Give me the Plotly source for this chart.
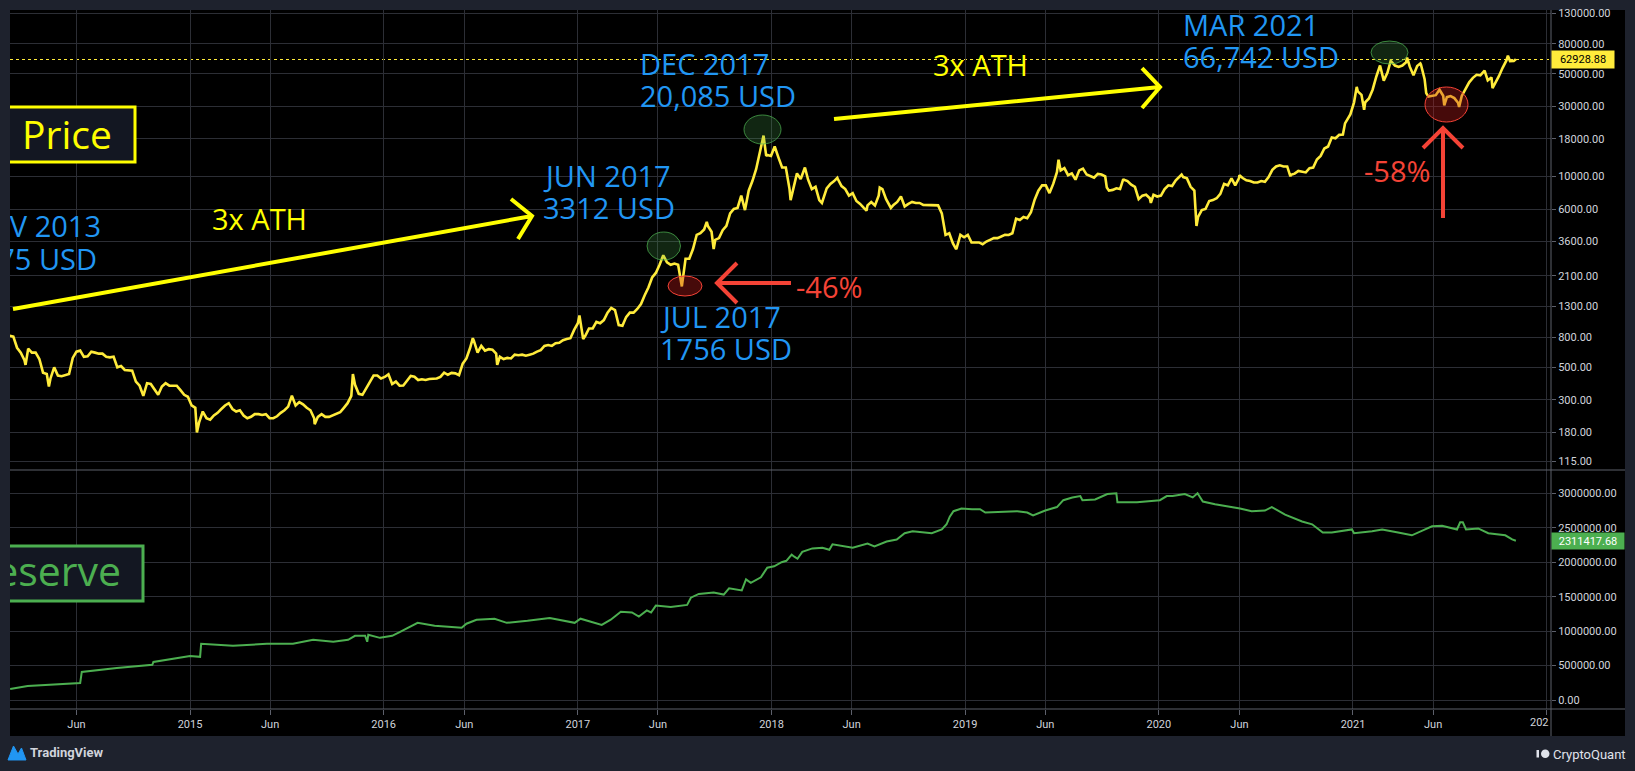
import math
import pandas as pd
import plotly.graph_objects as go

# ---------------------------------------------------------------- data
# weekly BTC price readings (USD), each list starts on the first Sunday of its year
price_2014 = [820, 810, 680, 630, 560, 670, 630, 630, 570, 460, 450, 420, 500, 440,
              435, 440, 450, 580, 640, 650, 590, 595, 640, 630, 620, 620, 590, 585,
              590, 500, 510, 480, 480, 475, 400, 375, 320, 390, 385, 355, 325, 370,
              390, 375, 375, 375, 350, 325, 315]
price_2015 = [275, 265, 210, 250, 225, 220, 235, 245, 260, 275, 285, 260, 250, 255,
              235, 225, 230, 240, 240, 237, 240, 225, 225, 232, 245, 255, 270, 290,
              275, 290, 280, 265, 255, 225, 230, 240, 230, 230, 235, 240, 247, 265,
              285, 320, 380, 330, 325, 360, 390, 440, 440, 420]
price_2016 = [430, 448, 385, 400, 375, 376, 405, 437, 432, 410, 415, 410, 416, 420,
              420, 430, 460, 445, 458, 455, 442, 530, 575, 680, 760, 630, 700, 650,
              665, 660, 620, 590, 570, 580, 575, 610, 605, 610, 600, 610, 620, 640,
              655, 700, 710, 700, 730, 735, 765, 780, 790, 900]
price_2017 = [1000, 900, 820, 920, 920, 1020, 1000, 1050, 1180, 1270, 1230, 970, 960,
              1100, 1180, 1180, 1250, 1350, 1550, 1750, 2050, 2200, 2500, 2900, 2600,
              2500, 2550, 2500, 1950, 2750, 2750, 3200, 4000, 4100, 4350, 4600, 4200,
              3700, 3800, 4300, 4600, 5600, 6000, 6100, 7400, 5900, 8000, 9300, 11200,
              15000, 19000, 14000, 13800]
price_2018 = [16000, 13500, 11500, 11500, 8200, 8300, 10500, 9600, 11400, 9500, 8200,
              8500, 6900, 7000, 8300, 8900, 9300, 9600, 8600, 8200, 7400, 7700, 6800,
              6500, 6100, 6350, 6700, 6350, 7400, 8200, 7000, 6300, 6400, 6700, 7300,
              6250, 6500, 6700, 6600, 6600, 6400, 6400, 6350, 6400, 6350, 5600, 4000,
              4100, 3500, 3250, 4000, 3850]
price_2019 = [4000, 3550, 3550, 3550, 3450, 3600, 3700, 3800, 3800, 3900, 4000, 3990,
              4100, 5150, 5050, 5300, 5200, 5700, 6950, 8000, 8700, 8700, 7700, 8900,
              10700, 11000, 11400, 10200, 10500, 9500, 11000, 11300, 10300, 10100, 9800,
              10400, 10300, 10000, 8000, 8100, 8300, 8200, 9500, 9300, 8800, 8500, 7000,
              7400, 7500, 7100, 7500, 7300]
price_2020 = [7400, 8200, 8700, 8600, 9400, 10000, 9900, 9700, 8500, 8000, 5300, 5900,
              6000, 6800, 6900, 7100, 7600, 8900, 8700, 9700, 8700, 9700, 9750, 9400,
              9300, 9100, 9100, 9300, 9200, 9900, 11100, 11700, 11900, 11700, 11700,
              10250, 10450, 10900, 10750, 10650, 11400, 11500, 13050, 13800, 15500,
              16000, 18400, 18200, 19200, 19300, 24000, 26500]
price_2021 = [32000, 38000, 36000, 32000, 34000, 39000, 48000, 57000, 45000, 51000,
              61000, 57000, 55800, 57000, 60000, 56000, 49000, 56600, 58000, 46000,
              35000, 35500, 35800, 39000, 35500, 34700, 35300, 34200, 31800, 35400,
              39900, 43800, 47000, 49300, 48900, 51800, 45200, 47300, 43200, 48200,
              55000, 61500, 61000, 61300]
price_year_starts = ['2014-01-26', '2015-01-04', '2016-01-03', '2017-01-01',
                     '2018-01-07', '2019-01-06', '2020-01-05', '2021-01-03']

# intra-week highs / lows
spike_dates = ['2014-02-25', '2014-04-10', '2015-01-14', '2015-07-12', '2015-08-24',
               '2015-11-04', '2016-06-17', '2016-08-02', '2017-01-04', '2017-01-11',
               '2017-06-11', '2017-07-16', '2017-09-01', '2017-09-14', '2017-12-17',
               '2017-12-22', '2018-02-06', '2018-03-05', '2018-04-06', '2018-05-05',
               '2018-06-29', '2018-07-24', '2018-08-14', '2018-12-15', '2019-06-26',
               '2019-09-25', '2019-10-26', '2019-12-17', '2020-02-13', '2020-03-12',
               '2020-06-01', '2020-09-05', '2020-12-17', '2021-01-08', '2021-01-22',
               '2021-02-21', '2021-03-13', '2021-04-13', '2021-05-08', '2021-05-19',
               '2021-06-22', '2021-07-20', '2021-09-06', '2021-09-21', '2021-10-20']
spike_values = [520, 370, 180, 320, 205, 450, 790, 520, 1130, 780, 3300, 1780, 4900,
                3200, 19800, 13800, 6900, 11500, 6600, 9800, 5850, 8400, 6100, 3200,
                13000, 8400, 9600, 6600, 10300, 4600, 10200, 10000, 23000, 40800, 28500,
                57500, 61200, 64500, 58900, 37000, 30500, 29800, 52700, 40000, 66500]
last_date = '2021-11-04'
last_price = 62928.88

reserve_dates = ['2014-01-27', '2014-02-24', '2014-03-01', '2014-06-08', '2014-06-11',
                 '2014-08-16', '2014-10-22', '2014-10-24', '2015-01-01', '2015-01-20',
                 '2015-01-22', '2015-03-23', '2015-05-26', '2015-07-14', '2015-08-21',
                 '2015-09-28', '2015-10-26', '2015-11-08', '2015-11-27', '2015-12-01',
                 '2015-12-03', '2015-12-25', '2016-01-17', '2016-02-01', '2016-02-15',
                 '2016-03-05', '2016-04-06', '2016-05-27', '2016-06-05', '2016-06-24',
                 '2016-07-28', '2016-08-20', '2016-09-28', '2016-11-09', '2016-12-26',
                 '2017-01-06', '2017-02-15', '2017-03-04', '2017-03-23', '2017-04-13',
                 '2017-04-26', '2017-05-11', '2017-05-19', '2017-05-28', '2017-06-25',
                 '2017-07-26', '2017-08-02', '2017-08-17', '2017-09-14', '2017-10-03',
                 '2017-10-13', '2017-11-06', '2017-11-14', '2017-11-23', '2017-12-12',
                 '2017-12-24', '2018-01-06', '2018-01-20', '2018-01-29', '2018-02-08',
                 '2018-02-13', '2018-02-19', '2018-02-28', '2018-03-19', '2018-04-07',
                 '2018-04-20', '2018-04-26', '2018-06-03', '2018-07-01', '2018-07-14',
                 '2018-08-06', '2018-08-25', '2018-09-09', '2018-09-24', '2018-10-30',
                 '2018-11-18', '2018-11-27', '2018-12-03', '2018-12-10', '2018-12-25',
                 '2019-01-14', '2019-01-29', '2019-02-08', '2019-04-09', '2019-04-28',
                 '2019-05-09', '2019-06-01', '2019-06-23', '2019-07-05', '2019-07-22',
                 '2019-08-06', '2019-08-10', '2019-09-03', '2019-09-26', '2019-10-13',
                 '2019-10-15', '2019-11-21', '2020-01-03', '2020-01-16', '2020-01-27',
                 '2020-02-19', '2020-02-28', '2020-03-05', '2020-03-14', '2020-03-24',
                 '2020-04-16', '2020-05-10', '2020-06-02', '2020-06-24', '2020-07-19',
                 '2020-08-01', '2020-08-26', '2020-09-27', '2020-10-16', '2020-11-05',
                 '2020-11-22', '2020-12-30', '2021-01-03', '2021-02-06', '2021-02-25',
                 '2021-03-27', '2021-04-22', '2021-05-17', '2021-05-30', '2021-06-18',
                 '2021-07-16', '2021-07-22', '2021-07-27', '2021-08-02', '2021-08-25',
                 '2021-09-13', '2021-10-15', '2021-10-28', '2021-11-04']
reserve_values = [160000, 190000, 204000, 247000, 408000, 466000, 510000, 553000, 640000,
                  626000, 815000, 786000, 815000, 815000, 873000, 845000, 873000, 932000,
                  932000, 845000, 946000, 902000, 932000, 990000, 1048000, 1120000,
                  1077000, 1048000, 1107000, 1165000, 1180000, 1120000, 1150000, 1190000,
                  1120000, 1180000, 1090000, 1165000, 1280000, 1270000, 1210000, 1300000,
                  1270000, 1370000, 1350000, 1380000, 1485000, 1540000, 1560000, 1530000,
                  1620000, 1590000, 1750000, 1700000, 1780000, 1920000, 1940000, 2000000,
                  2020000, 2110000, 2080000, 2050000, 2150000, 2200000, 2210000, 2180000,
                  2260000, 2210000, 2270000, 2230000, 2300000, 2330000, 2420000, 2450000,
                  2420000, 2475000, 2550000, 2660000, 2740000, 2780000, 2770000, 2770000,
                  2720000, 2740000, 2720000, 2680000, 2750000, 2800000, 2900000, 2940000,
                  2960000, 2900000, 2910000, 2990000, 3000000, 2870000, 2870000, 2900000,
                  2960000, 2960000, 2990000, 2960000, 2940000, 3000000, 2880000, 2840000,
                  2810000, 2780000, 2740000, 2750000, 2800000, 2690000, 2590000, 2550000,
                  2430000, 2430000, 2475000, 2420000, 2450000, 2475000, 2430000, 2390000,
                  2475000, 2520000, 2530000, 2475000, 2580000, 2580000, 2475000, 2490000,
                  2420000, 2390000, 2330000, 2311417.68]

price_ticks = [130000, 80000, 50000, 30000, 18000, 10000, 6000, 3600, 2100, 1300, 800,
               500, 300, 180, 115]
reserve_ticks = [0, 500000, 1000000, 1500000, 2000000, 2500000, 3000000]
x_tick_dates = ['2014-06-01', '2015-01-01', '2015-06-01', '2016-01-01', '2016-06-01',
                '2017-01-01', '2017-06-01', '2018-01-01', '2018-06-01', '2019-01-01',
                '2019-06-01', '2020-01-01', '2020-06-01', '2021-01-01', '2021-06-01',
                '2022-01-01']
x_tick_labels = ['Jun', '2015', 'Jun', '2016', 'Jun', '2017', 'Jun', '2018', 'Jun',
                 '2019', 'Jun', '2020', 'Jun', '2021', 'Jun', '']

# ---------------------------------------------------------------- geometry
W, H = 1635, 771
ML, MR, MT, MB = 10, 84, 10, 62
PW, PH = W - ML - MR, H - MT - MB
X_START = pd.Timestamp('2014-01-26 17:00')
X_END = pd.Timestamp('2022-01-09 05:00')
LOG_LO, LOG_HI = 1.9994, 5.1344
RES_LO, RES_HI = -130600, 3338000
SPLIT_PX = 470
SPLIT = (MT + PH - SPLIT_PX) / PH


def px(x):
    return (x - ML) / PW


def py(y):
    return (MT + PH - y) / PH


def date_at(x):
    return (X_START + (X_END - X_START) * ((x - ML) / PW)).strftime('%Y-%m-%d %H:%M:%S')


def logprice_at(y):
    return LOG_HI - (y - MT) / (SPLIT_PX - MT) * (LOG_HI - LOG_LO)


def price_at(y):
    return 10 ** logprice_at(y)


def reserve_at(y):
    return RES_HI - (y - SPLIT_PX) / (MT + PH - SPLIT_PX) * (RES_HI - RES_LO)


# ---------------------------------------------------------------- series
parts = []
for start, vals in zip(price_year_starts, [price_2014, price_2015, price_2016, price_2017,
                                           price_2018, price_2019, price_2020, price_2021]):
    parts.append(pd.Series(vals, index=pd.date_range(start, periods=len(vals), freq='7D')))
parts.append(pd.Series(spike_values, index=pd.to_datetime(spike_dates)))
parts.append(pd.Series([last_price], index=[pd.Timestamp(last_date)]))
price = pd.concat(parts).sort_index()
price = price[~price.index.duplicated(keep='last')]

BLUE = '#2196f3'
YEL = '#ffff00'
RED = '#f44336'
GRN = '#4caf50'
GRID = '#2c2e35'
AXC = '#5d606b'
TXT = '#d1d4dc'
FRAME = '#1e222d'

fig = go.Figure()
fig.add_trace(go.Scatter(x=price.index, y=price.values, mode='lines', xaxis='x', yaxis='y',
                         line=dict(color='#ffeb3b', width=2.6), hoverinfo='skip'))
fig.add_trace(go.Scatter(x=pd.to_datetime(reserve_dates), y=reserve_values, mode='lines',
                         xaxis='x2', yaxis='y2', line=dict(color=GRN, width=2),
                         hoverinfo='skip'))

# clipped drawing texts (cut by the left edge of the pane)
fig.add_trace(go.Scatter(x=[date_at(101), date_at(97)],
                         y=[price_at(230), price_at(263)],
                         mode='text', text=['NOV 2013', '1175 USD'], textposition='middle left',
                         textfont=dict(family='Open Sans', size=29, color=BLUE),
                         xaxis='x', yaxis='y', hoverinfo='skip', cliponaxis=True))
fig.add_trace(go.Scatter(x=[date_at(121)], y=[reserve_at(576)], mode='text',
                         text=['Reserve'], textposition='middle left',
                         textfont=dict(family='Open Sans', size=41, color=GRN),
                         xaxis='x2', yaxis='y2', hoverinfo='skip', cliponaxis=True))

axis_common = dict(automargin=False, zeroline=False, showline=False, gridcolor=GRID,
                   gridwidth=1, fixedrange=True)
fig.update_layout(
    template='none',
    width=W, height=H,
    margin=dict(l=ML, r=MR, t=MT, b=MB, pad=0),
    paper_bgcolor=FRAME, plot_bgcolor='#000000',
    showlegend=False, hovermode=False, dragmode=False,
    xaxis=dict(axis_common, domain=[0, 1], anchor='y', range=[X_START, X_END],
               tickvals=x_tick_dates, showticklabels=False, ticks='', showgrid=True),
    xaxis2=dict(axis_common, domain=[0, 1], anchor='y2', range=[X_START, X_END],
                matches='x', tickvals=x_tick_dates, ticktext=x_tick_labels,
                ticks='outside', ticklen=5, tickcolor=AXC, showgrid=True,
                tickfont=dict(family='Roboto', size=11, color=TXT)),
    yaxis=dict(axis_common, domain=[SPLIT, 1], anchor='x', type='log',
               range=[LOG_LO, LOG_HI], side='right', tickvals=price_ticks,
               ticktext=['%.2f' % v for v in price_ticks], ticks='outside', ticklen=4,
               tickcolor=AXC, tickfont=dict(family='Roboto', size=11, color=TXT)),
    yaxis2=dict(axis_common, domain=[0, SPLIT], anchor='x2', range=[RES_LO, RES_HI],
                side='right', tickvals=reserve_ticks,
                ticktext=['%.2f' % v for v in reserve_ticks], ticks='outside', ticklen=4,
                tickcolor=AXC, tickfont=dict(family='Roboto', size=11, color=TXT)),
)


def seg_path(points):
    out = []
    for i, (x, y) in enumerate(points):
        out.append(('M' if i == 0 else 'L') + '%.5f,%.5f' % (px(x), py(y)))
    return ' '.join(out)


shapes = []
# black chart background including axis areas
shapes.append(dict(type='rect', xref='paper', yref='paper', x0=px(10), x1=px(1625),
                   y0=py(736), y1=py(10), fillcolor='#000000', line=dict(width=0),
                   layer='below'))
# pane separators / axis lines
shapes.append(dict(type='line', xref='paper', yref='paper', x0=px(10), x1=px(1625),
                   y0=py(470), y1=py(470), line=dict(color=AXC, width=1)))
shapes.append(dict(type='line', xref='paper', yref='paper', x0=px(10), x1=px(1625),
                   y0=py(709), y1=py(709), line=dict(color=AXC, width=1)))
shapes.append(dict(type='line', xref='paper', yref='paper', x0=px(1551), x1=px(1551),
                   y0=py(10), y1=py(736), line=dict(color=AXC, width=1)))
# last-price dotted line
shapes.append(dict(type='line', xref='paper', yref='paper', x0=0, x1=1,
                   y0=py(59.5), y1=py(59.5),
                   line=dict(color='#ffeb3b', width=1, dash='dot'), layer='below'))
# label boxes (clipped by the pane)
shapes.append(dict(type='rect', xref='x', yref='y', x0=date_at(-40), x1=date_at(135),
                   y0=price_at(162), y1=price_at(107), fillcolor='#131722',
                   line=dict(color=YEL, width=3), layer='between'))
shapes.append(dict(type='rect', xref='x2', yref='y2', x0=date_at(-40), x1=date_at(143),
                   y0=reserve_at(601), y1=reserve_at(546), fillcolor='#131722',
                   line=dict(color=GRN, width=3), layer='between'))
# ellipses
for (x0, y0, x1, y1, col) in [(647, 232, 680.5, 260, 'g'), (744, 115, 781, 144, 'g'),
                              (1371, 41, 1408, 64, 'g'), (668, 276, 702, 296, 'r'),
                              (1425, 87, 1468, 122, 'r')]:
    if col == 'g':
        fc, lc = 'rgba(76,175,80,0.22)', 'rgba(76,175,80,0.75)'
    else:
        fc, lc = 'rgba(200,30,30,0.35)', RED
    shapes.append(dict(type='circle', xref='paper', yref='paper', x0=px(x0), x1=px(x1),
                       y0=py(y1), y1=py(y0), fillcolor=fc, line=dict(color=lc, width=1)))
# arrows
arrow_specs = [
    ([(13, 309), (532, 216)], [(511, 199), (532, 216), (518, 239)], YEL),
    ([(834, 119), (1160, 87)], [(1142, 68), (1160, 87), (1142, 108)], YEL),
    ([(791, 283), (717, 283)], [(737, 263), (717, 283), (737, 303)], RED),
    ([(1443, 218), (1443, 128)], [(1423, 148), (1443, 128), (1463, 148)], RED),
]
for shaft, head, col in arrow_specs:
    shapes.append(dict(type='path', xref='paper', yref='paper',
                       path=seg_path(shaft) + ' ' + seg_path(head),
                       line=dict(color=col, width=4)))
# footer logos
shapes.append(dict(type='path', xref='paper', yref='paper',
                   path=seg_path([(8, 760), (13.5, 746), (18, 754), (21.5, 748), (26, 760)]) + ' Z',
                   fillcolor=BLUE, line=dict(color=BLUE, width=1)))
shapes.append(dict(type='circle', xref='paper', yref='paper', x0=px(1541), x1=px(1549.5),
                   y0=py(758), y1=py(749.5), fillcolor='#e0e3eb', line=dict(width=0)))
shapes.append(dict(type='rect', xref='paper', yref='paper', x0=px(1536.5), x1=px(1539),
                   y0=py(757.5), y1=py(750), fillcolor='#e0e3eb', line=dict(width=0)))
fig.update_layout(shapes=shapes)

anns = []


def text_ann(t, x, y, size, color, xanchor='left', family='Open Sans'):
    anns.append(dict(text=t, xref='paper', yref='paper', x=px(x), y=py(y),
                     xanchor=xanchor, yanchor='middle', showarrow=False,
                     font=dict(family=family, size=size, color=color)))


text_ann('JUN 2017', 541, 176, 29, BLUE)
text_ann('3312 USD', 541, 207, 29, BLUE)
text_ann('DEC 2017', 638, 63, 29, BLUE)
text_ann('20,085 USD', 638, 95, 29, BLUE)
text_ann('JUL 2017', 658, 316, 29, BLUE)
text_ann('1756 USD', 658, 348, 29, BLUE)
text_ann('MAR 2021', 1181, 25, 29, BLUE)
text_ann('66,742 USD', 1181, 57, 29, BLUE)
text_ann('3x ATH', 210, 218, 29, YEL)
text_ann('3x ATH', 931, 64, 29, YEL)
text_ann('-46%', 794, 286, 29, RED)
text_ann('-58%', 1362, 170, 29, RED)
text_ann('Price', 20, 134, 39, YEL)
text_ann('202', 1551, 722, 11, TXT, xanchor='right', family='Roboto')
text_ann('<b>TradingView</b>', 28, 752, 13, TXT, family='Roboto')
text_ann('CryptoQuant', 1628, 754, 13, '#e0e3eb', xanchor='right', family='Roboto')

# last value labels on the axes
anns.append(dict(text='%.2f' % last_price, xref='paper', yref='paper', x=px(1551), y=py(59.5),
                 xanchor='left', yanchor='middle', showarrow=False, bgcolor='#ffeb3b',
                 width=60, height=15, borderpad=1, align='center',
                 font=dict(family='Roboto', size=11, color='#000000')))
anns.append(dict(text='%.2f' % reserve_values[-1], xref='paper', yref='paper', x=px(1551),
                 y=py(541), xanchor='left', yanchor='middle', showarrow=False, bgcolor=GRN,
                 width=70, height=14, borderpad=1, align='center',
                 font=dict(family='Roboto', size=11, color='#ffffff')))
fig.update_layout(annotations=anns)

fig.write_html('out.html')
